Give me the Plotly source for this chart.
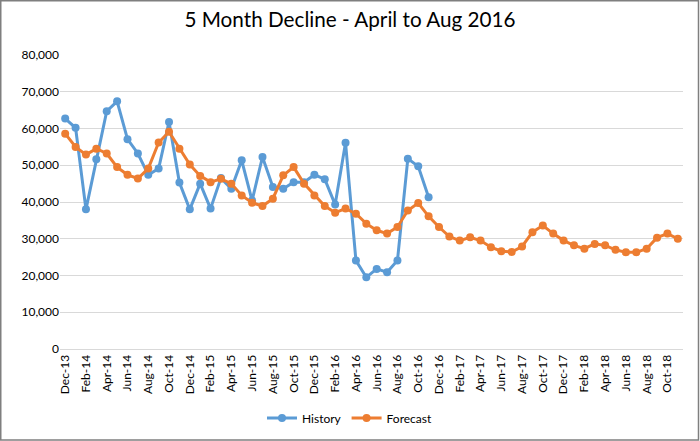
import plotly.graph_objects as go

months = ["Dec-13","Jan-14","Feb-14","Mar-14","Apr-14","May-14","Jun-14","Jul-14","Aug-14","Sep-14","Oct-14","Nov-14",
          "Dec-14","Jan-15","Feb-15","Mar-15","Apr-15","May-15","Jun-15","Jul-15","Aug-15","Sep-15","Oct-15","Nov-15",
          "Dec-15","Jan-16","Feb-16","Mar-16","Apr-16","May-16","Jun-16","Jul-16","Aug-16","Sep-16","Oct-16","Nov-16",
          "Dec-16","Jan-17","Feb-17","Mar-17","Apr-17","May-17","Jun-17","Jul-17","Aug-17","Sep-17","Oct-17","Nov-17",
          "Dec-17","Jan-18","Feb-18","Mar-18","Apr-18","May-18","Jun-18","Jul-18","Aug-18","Sep-18","Oct-18","Nov-18"]

history = [62700, 60200, 38000, 51600, 64700, 67400, 57100, 53200, 47400, 49100, 61800, 45300,
           38000, 45000, 38200, 46500, 43600, 51350, 40400, 52250, 44100, 43600, 45400, 45400,
           47400, 46200, 39300, 56100, 24100, 19500, 21800, 20900, 24100, 51800, 49700, 41300]

forecast = [58600, 55000, 52900, 54500, 53200, 49500, 47400, 46400, 49100, 56200, 59100, 54500,
            50200, 47100, 45400, 46300, 45000, 41800, 39800, 38900, 40900, 47250, 49500, 45000,
            41800, 38900, 37100, 38200, 36800, 34100, 32300, 31400, 33200, 37700, 39700, 36100,
            33200, 30600, 29500, 30400, 29500, 27700, 26600, 26400, 27900, 31800, 33600, 31400,
            29500, 28200, 27300, 28600, 28200, 27000, 26300, 26300, 27300, 30300, 31400, 30000]

tick_labels = months[::2]

blue = "#5B9BD5"
orange = "#ED7D31"
font = "Lato, 'Open Sans', sans-serif"

fig = go.Figure()
fig.add_trace(go.Scatter(x=months[:len(history)], y=history, name="History", mode="lines+markers",
                         line=dict(color=blue, width=3), marker=dict(color=blue, size=8)))
fig.add_trace(go.Scatter(x=months, y=forecast, name="Forecast", mode="lines+markers",
                         line=dict(color=orange, width=3), marker=dict(color=orange, size=8)))

L, R, T, B = 60, 17, 55, 92
W, H = 700, 441
pw, ph = W - L - R, H - T - B

fig.update_layout(
    width=W, height=H,
    margin=dict(l=L, r=R, t=T, b=B, autoexpand=False),
    paper_bgcolor="white", plot_bgcolor="white",
    title=dict(text="5 Month Decline - April to Aug 2016", x=0.5, xanchor="center",
               y=1 - 20 / H, yanchor="middle", font=dict(family=font, size=20.7, color="#000000")),
    font=dict(family=font, size=12, color="#000000"),
    xaxis=dict(type="category", categoryorder="array", categoryarray=months,
               tickmode="array", tickvals=tick_labels, ticktext=tick_labels, automargin=False,
               tickangle=-90, showgrid=False, showline=True, linecolor="#D9D9D9", linewidth=1,
               ticks="", range=[-0.5, len(months) - 0.5], tickfont=dict(size=12, color="#000000")),
    yaxis=dict(range=[0, 80000], dtick=10000, tickformat=",", showgrid=True, gridcolor="#D9D9D9",
               gridwidth=1, zeroline=False, showline=False, ticks="", automargin=False,
               tickfont=dict(size=12, color="#000000")),
    legend=dict(orientation="h", xref="container", yref="container", x=350 / W, xanchor="center",
                y=(H - 418) / H, yanchor="middle", font=dict(size=12, color="#000000"), itemwidth=30),
    showlegend=True,
)

fig.add_shape(type="rect", xref="paper", yref="paper",
              x0=(0.75 - L) / pw, x1=(698.5 - L) / pw, y0=(H - B - 440) / ph, y1=(H - B - 0.75) / ph,
              line=dict(color="#7F7F7F", width=1.5), fillcolor="rgba(0,0,0,0)", layer="below")

fig.write_html("out.html", config={"displayModeBar": False},
               post_script="document.body.style.margin='0';document.body.style.overflow='hidden';")
